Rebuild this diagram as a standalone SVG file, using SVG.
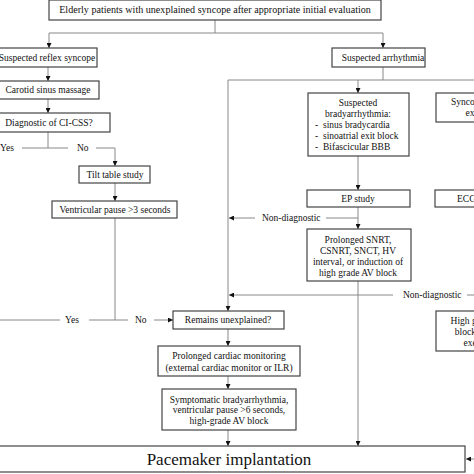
<svg xmlns="http://www.w3.org/2000/svg" width="474" height="474" viewBox="0 0 474 474">
<defs>
<marker id="ah" markerWidth="5" markerHeight="5" refX="5" refY="2.5" orient="auto" markerUnits="userSpaceOnUse">
<path d="M0,0 L5,2.5 L0,5 z" fill="#111"/>
</marker>
<style>
.b{fill:#fff;stroke:#444;stroke-width:1.2}
.t{font-family:"Liberation Serif","Times New Roman",serif;font-size:9.5px;fill:#111;text-anchor:middle}
.l{font-family:"Liberation Serif","Times New Roman",serif;font-size:9.5px;fill:#111}
.c{fill:none;stroke:#888;stroke-width:1}
.a{fill:none;stroke:#888;stroke-width:1;marker-end:url(#ah)}
</style>
</defs>
<rect width="474" height="474" fill="#fff"/>
<g id="connectors">
<path class="c" d="M215,20 V33 M49,33 H383"/>
<path class="a" d="M49,33 V48"/>
<path class="a" d="M383,33 V48"/>
<path class="a" d="M48,67 V81"/>
<path class="a" d="M48,99 V113"/>
<path class="c" d="M48,132 V148 M22,148 H68"/>
<path class="a" d="M96,148 H115 V166"/>
<path class="a" d="M115,183 V201"/>
<path class="c" d="M115,218 V320 M0,320 H60 M89,320 H128"/>
<path class="a" d="M154,320 H173"/>
<path class="c" d="M383,67 V80 M228,80 H474"/>
<path class="a" d="M358,80 V93"/>
<path class="a" d="M228,80 V311"/>
<path class="a" d="M358,156 V190"/>
<path class="a" d="M358,207 V229"/>
<path class="a" d="M255,218 H229"/>
<path class="c" d="M326,218 H358"/>
<path class="a" d="M358,281 V446"/>
<path class="a" d="M393,295 H229"/>
<path class="c" d="M467,295 H474"/>
<path class="a" d="M228,329 V346"/>
<path class="a" d="M228,376 V389"/>
<path class="a" d="M228,430 V446"/>
<path class="a" d="M476,459 H466"/>
<text class="l" x="0" y="151">Yes</text>
<text class="l" x="77" y="151">No</text>
<text class="l" x="65" y="323">Yes</text>
<text class="l" x="135" y="323">No</text>
<text class="l" x="262" y="221">Non-diagnostic</text>
<text class="l" x="403" y="298">Non-diagnostic</text>
</g>
<g id="start"><rect class="b" x="49" y="0" width="332" height="20"/><text class="t" x="215" y="13" style="font-size:10.1px">Elderly patients with unexplained syncope after appropriate initial evaluation</text></g>
<g id="reflex"><rect class="b" x="-5" y="48" width="102" height="19"/><text class="t" x="47" y="61">Suspected reflex syncope</text></g>
<g id="arrhythmia"><rect class="b" x="332" y="48" width="93" height="19"/><text class="t" x="383" y="61">Suspected arrhythmia</text></g>
<g id="csm"><rect class="b" x="-3" y="81" width="102" height="18"/><text class="t" x="48" y="93">Carotid sinus massage</text></g>
<g id="cicss"><rect class="b" x="-12" y="113" width="122" height="19"/><text class="t" x="49" y="126">Diagnostic of CI-CSS?</text></g>
<g id="tilt"><rect class="b" x="79" y="166" width="71" height="17"/><text class="t" x="115" y="178">Tilt table study</text></g>
<g id="vpause"><rect class="b" x="52" y="201" width="125" height="17"/><text class="t" x="115" y="213">Ventricular pause &gt;3 seconds</text></g>
<g id="brady"><rect class="b" x="308" y="93" width="101" height="63"/>
<text class="t" x="358" y="106">Suspected</text>
<text class="t" x="358" y="117">bradyarrhythmia:</text>
<text class="l" x="315" y="128">-</text><text class="l" x="323" y="128">sinus bradycardia</text>
<text class="l" x="315" y="139">-</text><text class="l" x="323" y="139">sinoatrial exit block</text>
<text class="l" x="315" y="150">-</text><text class="l" x="323" y="150">Bifascicular BBB</text>
</g>
<g id="exercise"><rect class="b" x="436" y="93" width="90" height="29"/><text class="t" x="481" y="105">Syncope during</text><text class="t" x="481" y="116">exercise</text></g>
<g id="ep"><rect class="b" x="307" y="190" width="103" height="17"/><text class="t" x="358" y="202">EP study</text></g>
<g id="ecg"><rect class="b" x="435" y="190" width="90" height="17"/><text class="l" x="457" y="202">ECG exercise test</text></g>
<g id="prolonged"><rect class="b" x="307" y="229" width="104" height="52"/>
<text class="t" x="358" y="243">Prolonged SNRT,</text>
<text class="t" x="358" y="254">CSNRT, SNCT, HV</text>
<text class="t" x="358" y="265">interval, or induction of</text>
<text class="t" x="358" y="276">high grade AV block</text>
</g>
<g id="highgrade"><rect class="b" x="436" y="311" width="90" height="40"/>
<text class="t" x="479" y="324">High grade AV</text>
<text class="t" x="479" y="335">block during</text>
<text class="t" x="479" y="346">exercise</text>
</g>
<g id="remains"><rect class="b" x="173" y="311" width="111" height="18"/><text class="t" x="228" y="323">Remains unexplained?</text></g>
<g id="monitoring"><rect class="b" x="158" y="346" width="142" height="30"/><text class="t" x="229" y="359">Prolonged cardiac monitoring</text><text class="t" x="229" y="371">(external cardiac monitor or ILR)</text></g>
<g id="symptomatic"><rect class="b" x="162" y="389" width="134" height="41"/>
<text class="t" x="229" y="403">Symptomatic bradyarrhythmia,</text>
<text class="t" x="229" y="413">ventricular pause &gt;6 seconds,</text>
<text class="t" x="229" y="424">high-grade AV block</text>
</g>
<g id="pacemaker"><rect class="b" x="-5" y="446" width="470" height="26"/><text class="t" x="229" y="465" style="font-size:17px">Pacemaker implantation</text></g>
</svg>
